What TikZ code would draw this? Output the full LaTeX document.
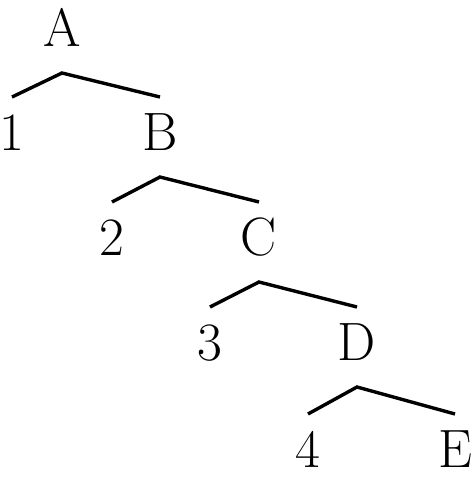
\documentclass[tikz,border=0pt]{standalone}
\begin{document}
\begin{tikzpicture}[x=0.5pt,y=-0.5pt,font=\fontsize{27}{32}\selectfont,
    every node/.style={anchor=base,inner sep=0pt}]
      \useasboundingbox (0,0) rectangle (474,494);
      \draw
        (62,46) node (A){A}
        (12,150) node (1){1}
        (160,150) node (B){B}
        (112,255) node (2){2}
        (259,255) node (C){C}
        (210,360) node (3){3}
        (357,360) node (D){D}
        (308,467) node (4){4}
        (455,467) node (E){E};
      \begin{scope}[line width=1.7pt]
        \draw ([yshift=26.5pt]1.base) -- ([yshift=-13.5pt]A.base) -- ([yshift=26.5pt]B.base);
        \draw ([yshift=26.5pt]2.base) -- ([yshift=-13.5pt]B.base) -- ([yshift=26.5pt]C.base);
        \draw ([yshift=26.5pt]3.base) -- ([yshift=-13.5pt]C.base) -- ([yshift=26.5pt]D.base);
        \draw ([yshift=26.5pt]4.base) -- ([yshift=-13.5pt]D.base) -- ([yshift=26.5pt]E.base);
      \end{scope}
    \end{tikzpicture}
\end{document}
